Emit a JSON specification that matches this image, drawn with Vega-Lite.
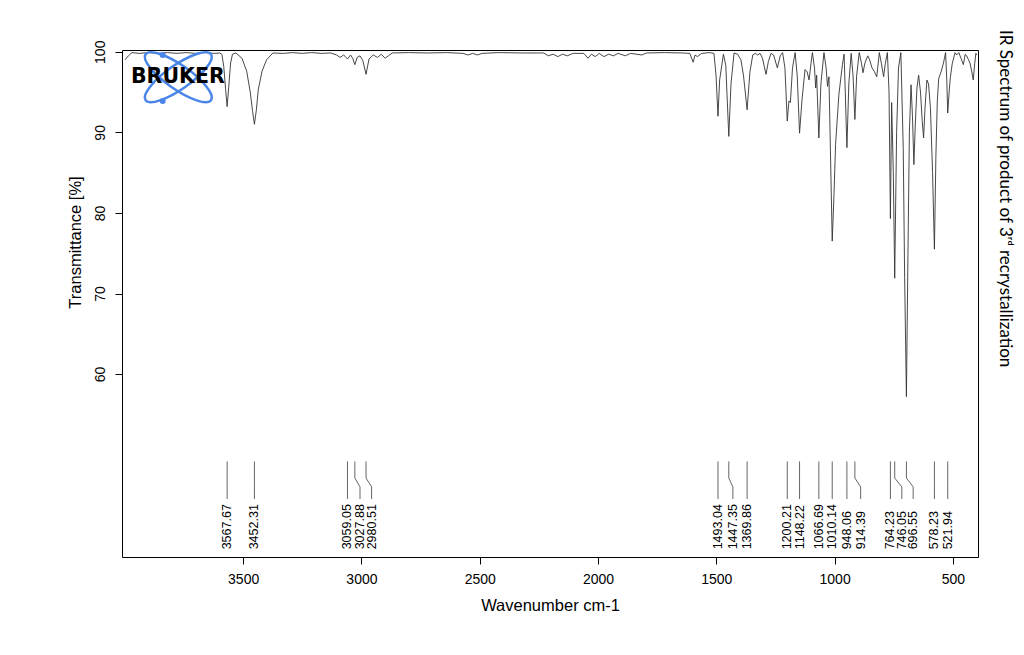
{
  "$schema": "https://vega.github.io/schema/vega-lite/v6.json",
  "width": 856,
  "height": 507,
  "autosize": {"type": "none"},
  "padding": {"left": 122, "top": 50, "right": 46, "bottom": 98},
  "background": "white",
  "config": {"view": {"stroke": "black", "strokeWidth": 1}},
  "datasets": {
    "spectrum": [
      {"wn": 3999, "t": 99.0}, {"wn": 3985, "t": 99.5}, {"wn": 3970, "t": 99.9}, {"wn": 3940, "t": 99.8},
      {"wn": 3900, "t": 99.9}, {"wn": 3860, "t": 99.8}, {"wn": 3820, "t": 99.9}, {"wn": 3780, "t": 99.8},
      {"wn": 3740, "t": 99.9}, {"wn": 3700, "t": 99.8}, {"wn": 3660, "t": 99.9}, {"wn": 3620, "t": 99.8},
      {"wn": 3600, "t": 99.85}, {"wn": 3590, "t": 99.7}, {"wn": 3582, "t": 98.2}, {"wn": 3574, "t": 95.3},
      {"wn": 3567.67, "t": 93.2}, {"wn": 3561, "t": 95.6}, {"wn": 3553, "t": 98.6}, {"wn": 3545, "t": 99.7},
      {"wn": 3531, "t": 99.85}, {"wn": 3505, "t": 99.2}, {"wn": 3485, "t": 97.6}, {"wn": 3470, "t": 95.0},
      {"wn": 3460, "t": 92.6}, {"wn": 3452.31, "t": 91.0}, {"wn": 3444, "t": 92.8}, {"wn": 3436, "t": 95.3},
      {"wn": 3420, "t": 97.6}, {"wn": 3401, "t": 99.0}, {"wn": 3374, "t": 99.85}, {"wn": 3330, "t": 99.8},
      {"wn": 3290, "t": 99.9}, {"wn": 3250, "t": 99.8}, {"wn": 3210, "t": 99.9}, {"wn": 3170, "t": 99.8},
      {"wn": 3130, "t": 99.85}, {"wn": 3105, "t": 99.6}, {"wn": 3090, "t": 99.3}, {"wn": 3075, "t": 99.6},
      {"wn": 3059.05, "t": 99.1}, {"wn": 3046, "t": 99.6}, {"wn": 3037, "t": 99.2}, {"wn": 3027.88, "t": 98.4},
      {"wn": 3018, "t": 99.3}, {"wn": 3006, "t": 99.5}, {"wn": 2994, "t": 98.9}, {"wn": 2980.51, "t": 97.2},
      {"wn": 2968, "t": 99.1}, {"wn": 2950, "t": 99.6}, {"wn": 2932, "t": 99.3}, {"wn": 2916, "t": 99.7},
      {"wn": 2900, "t": 99.2}, {"wn": 2886, "t": 99.5}, {"wn": 2870, "t": 99.85}, {"wn": 2800, "t": 99.9},
      {"wn": 2720, "t": 99.85}, {"wn": 2640, "t": 99.9}, {"wn": 2570, "t": 99.8}, {"wn": 2550, "t": 99.6},
      {"wn": 2530, "t": 99.8}, {"wn": 2510, "t": 99.6}, {"wn": 2490, "t": 99.8}, {"wn": 2420, "t": 99.9},
      {"wn": 2320, "t": 99.85}, {"wn": 2230, "t": 99.85}, {"wn": 2210, "t": 99.5}, {"wn": 2190, "t": 99.7},
      {"wn": 2170, "t": 99.4}, {"wn": 2150, "t": 99.7}, {"wn": 2130, "t": 99.5}, {"wn": 2105, "t": 99.8},
      {"wn": 2060, "t": 99.8}, {"wn": 2042, "t": 99.2}, {"wn": 2028, "t": 99.7}, {"wn": 2012, "t": 99.4},
      {"wn": 1995, "t": 99.8}, {"wn": 1975, "t": 99.4}, {"wn": 1955, "t": 99.7}, {"wn": 1935, "t": 99.5},
      {"wn": 1915, "t": 99.8}, {"wn": 1885, "t": 99.5}, {"wn": 1862, "t": 99.8}, {"wn": 1815, "t": 99.6},
      {"wn": 1795, "t": 99.85}, {"wn": 1720, "t": 99.9}, {"wn": 1640, "t": 99.85}, {"wn": 1612, "t": 99.8},
      {"wn": 1598, "t": 98.7}, {"wn": 1590, "t": 99.6}, {"wn": 1580, "t": 99.4}, {"wn": 1562, "t": 99.8},
      {"wn": 1530, "t": 99.9}, {"wn": 1510, "t": 99.8}, {"wn": 1501, "t": 97.0}, {"wn": 1493.04, "t": 92.0},
      {"wn": 1486, "t": 96.5}, {"wn": 1470, "t": 99.7}, {"wn": 1460, "t": 98.3}, {"wn": 1447.35, "t": 89.5},
      {"wn": 1438, "t": 96.0}, {"wn": 1425, "t": 99.85}, {"wn": 1410, "t": 99.7}, {"wn": 1396, "t": 99.0},
      {"wn": 1385, "t": 97.0}, {"wn": 1369.86, "t": 92.8}, {"wn": 1358, "t": 97.5}, {"wn": 1346, "t": 99.6},
      {"wn": 1335, "t": 99.8}, {"wn": 1325, "t": 99.6}, {"wn": 1315, "t": 99.8}, {"wn": 1305, "t": 99.2},
      {"wn": 1290, "t": 97.2}, {"wn": 1280, "t": 98.8}, {"wn": 1269, "t": 99.8}, {"wn": 1258, "t": 99.6},
      {"wn": 1242, "t": 98.0}, {"wn": 1230, "t": 99.5}, {"wn": 1220, "t": 99.9}, {"wn": 1210, "t": 98.0},
      {"wn": 1200.21, "t": 91.4}, {"wn": 1193, "t": 93.9}, {"wn": 1187, "t": 93.7}, {"wn": 1178, "t": 98.0},
      {"wn": 1167, "t": 99.9}, {"wn": 1158, "t": 97.0}, {"wn": 1148.22, "t": 89.9}, {"wn": 1138, "t": 94.0},
      {"wn": 1125, "t": 97.8}, {"wn": 1116, "t": 97.5}, {"wn": 1108, "t": 96.5}, {"wn": 1100, "t": 98.5},
      {"wn": 1094, "t": 99.9}, {"wn": 1085, "t": 98.0}, {"wn": 1080, "t": 95.5}, {"wn": 1076, "t": 97.1},
      {"wn": 1066.69, "t": 89.3}, {"wn": 1058, "t": 96.0}, {"wn": 1045, "t": 99.9}, {"wn": 1036, "t": 98.0},
      {"wn": 1030, "t": 95.7}, {"wn": 1024, "t": 96.9}, {"wn": 1010.14, "t": 76.5}, {"wn": 1003, "t": 82.0},
      {"wn": 996, "t": 88.5}, {"wn": 982, "t": 94.7}, {"wn": 967, "t": 98.4}, {"wn": 960, "t": 99.7},
      {"wn": 955, "t": 95.0}, {"wn": 948.06, "t": 88.1}, {"wn": 940, "t": 96.0}, {"wn": 930, "t": 99.8},
      {"wn": 922, "t": 97.0}, {"wn": 914.39, "t": 91.6}, {"wn": 907, "t": 97.0}, {"wn": 896, "t": 99.9},
      {"wn": 886, "t": 98.5}, {"wn": 880, "t": 97.4}, {"wn": 872, "t": 98.6}, {"wn": 860, "t": 99.5},
      {"wn": 852, "t": 99.0}, {"wn": 842, "t": 98.0}, {"wn": 833, "t": 97.6}, {"wn": 822, "t": 96.9},
      {"wn": 816, "t": 98.5}, {"wn": 811, "t": 99.9}, {"wn": 802, "t": 98.5}, {"wn": 793, "t": 96.9},
      {"wn": 786, "t": 98.5}, {"wn": 777, "t": 99.9}, {"wn": 770, "t": 95.0}, {"wn": 764.23, "t": 79.3},
      {"wn": 759, "t": 93.7}, {"wn": 752, "t": 85.0}, {"wn": 746.05, "t": 71.9}, {"wn": 738, "t": 90.0},
      {"wn": 730, "t": 98.0}, {"wn": 720, "t": 99.9}, {"wn": 710, "t": 88.0}, {"wn": 704, "t": 72.0},
      {"wn": 696.55, "t": 57.2}, {"wn": 690, "t": 75.0}, {"wn": 684, "t": 90.0}, {"wn": 677, "t": 95.9},
      {"wn": 671, "t": 92.0}, {"wn": 665, "t": 86.0}, {"wn": 659, "t": 91.0}, {"wn": 652, "t": 95.5},
      {"wn": 645, "t": 97.1}, {"wn": 637, "t": 95.0}, {"wn": 630, "t": 91.5}, {"wn": 624, "t": 89.3},
      {"wn": 618, "t": 93.0}, {"wn": 610, "t": 96.5}, {"wn": 603, "t": 96.0}, {"wn": 595, "t": 93.0},
      {"wn": 586, "t": 85.0}, {"wn": 578.23, "t": 75.5}, {"wn": 572, "t": 87.0}, {"wn": 566, "t": 93.9},
      {"wn": 560, "t": 96.7}, {"wn": 550, "t": 97.5}, {"wn": 540, "t": 98.6}, {"wn": 531, "t": 99.9},
      {"wn": 526, "t": 96.5}, {"wn": 521.94, "t": 92.4}, {"wn": 516, "t": 95.0}, {"wn": 511, "t": 96.8},
      {"wn": 503, "t": 98.5}, {"wn": 491, "t": 99.9}, {"wn": 484, "t": 99.6}, {"wn": 475, "t": 99.9},
      {"wn": 466, "t": 99.2}, {"wn": 456, "t": 98.4}, {"wn": 448, "t": 99.7}, {"wn": 442, "t": 99.5},
      {"wn": 434, "t": 99.0}, {"wn": 428, "t": 98.6}, {"wn": 420, "t": 97.5}, {"wn": 414, "t": 96.5},
      {"wn": 408, "t": 98.5}, {"wn": 403, "t": 99.8}, {"wn": 400, "t": 99.6}
    ],
    "peaks": [
      {"label": "3567.67", "peak": 3567.67, "lx": 3567.67},
      {"label": "3452.31", "peak": 3452.31, "lx": 3452.31},
      {"label": "3059.05", "peak": 3059.05, "lx": 3059.05},
      {"label": "3027.88", "peak": 3027.88, "lx": 3006},
      {"label": "2980.51", "peak": 2980.51, "lx": 2957},
      {"label": "1493.04", "peak": 1493.04, "lx": 1493.04},
      {"label": "1447.35", "peak": 1447.35, "lx": 1430},
      {"label": "1369.86", "peak": 1369.86, "lx": 1369.86},
      {"label": "1200.21", "peak": 1200.21, "lx": 1200.21},
      {"label": "1148.22", "peak": 1148.22, "lx": 1148.22},
      {"label": "1066.69", "peak": 1066.69, "lx": 1066.69},
      {"label": "1010.14", "peak": 1010.14, "lx": 1010.14},
      {"label": "948.06", "peak": 948.06, "lx": 948.06},
      {"label": "914.39", "peak": 914.39, "lx": 890},
      {"label": "764.23", "peak": 764.23, "lx": 764.23},
      {"label": "746.05", "peak": 746.05, "lx": 716},
      {"label": "696.55", "peak": 696.55, "lx": 668},
      {"label": "578.23", "peak": 578.23, "lx": 578.23},
      {"label": "521.94", "peak": 521.94, "lx": 521.94}
    ]
  },
  "encoding": {
    "x": {
      "type": "quantitative",
      "scale": {"domain": [394, 4012], "reverse": true, "nice": false, "zero": false},
      "axis": {
        "values": [500, 1000, 1500, 2000, 2500, 3000, 3500], "format": "d",
        "grid": false, "domain": false, "tickSize": 7, "tickColor": "black",
        "labelFont": "Liberation Sans", "labelFontSize": 14, "labelColor": "black", "labelPadding": 8,
        "labelFlush": false, "labelOverlap": false,
        "title": "Wavenumber cm-1", "titleFont": "Liberation Sans", "titleFontSize": 16.5,
        "titleFontWeight": "normal", "titleColor": "black", "titlePadding": 11
      }
    },
    "y": {
      "type": "quantitative",
      "scale": {"domain": [37.3, 100.22], "nice": false, "zero": false},
      "axis": {
        "values": [60, 70, 80, 90, 100], "format": "d",
        "grid": false, "domain": false, "tickSize": 7, "tickColor": "black",
        "labelFont": "Liberation Sans", "labelFontSize": 14, "labelColor": "black", "labelPadding": 8,
        "labelAngle": 270, "labelAlign": "center", "labelBaseline": "bottom", "labelFlush": false,
        "title": "Transmittance [%]", "titleFont": "Liberation Sans", "titleFontSize": 16.5,
        "titleFontWeight": "normal", "titleColor": "black",
        "titleX": -47, "titleY": 192, "titleAngle": 270, "titleAlign": "center", "titleBaseline": "middle"
      }
    }
  },
  "layer": [
    {
      "data": {"name": "spectrum"},
      "mark": {"type": "line", "color": "#333333", "strokeWidth": 0.9, "clip": true},
      "encoding": {"x": {"field": "wn", "title": "Wavenumber cm-1"}, "y": {"field": "t", "title": "Transmittance [%]"}}
    },
    {
      "data": {"name": "peaks"},
      "mark": {"type": "rule", "color": "#555555", "strokeWidth": 0.9},
      "encoding": {"x": {"field": "peak"}, "y": {"datum": 49.16}, "y2": {"datum": 47.1}}
    },
    {
      "data": {"name": "peaks"},
      "mark": {"type": "rule", "color": "#555555", "strokeWidth": 0.9},
      "encoding": {"x": {"field": "peak"}, "x2": {"field": "lx"}, "y": {"datum": 47.1}, "y2": {"datum": 46.0}}
    },
    {
      "data": {"name": "peaks"},
      "mark": {"type": "rule", "color": "#555555", "strokeWidth": 0.9},
      "encoding": {"x": {"field": "lx"}, "y": {"datum": 46.0}, "y2": {"datum": 44.5}}
    },
    {
      "data": {"name": "peaks"},
      "mark": {"type": "text", "angle": 270, "align": "left", "baseline": "middle", "font": "Liberation Sans", "fontSize": 12.5, "color": "black"},
      "encoding": {"x": {"field": "lx"}, "y": {"datum": 38.25}, "text": {"field": "label"}}
    },
    {
      "data": {"values": [{"part": "orbit A", "tilt": 35}, {"part": "orbit B", "tilt": -35}]},
      "mark": {"type": "point", "shape": "M -1 0 C -1 -0.166 -0.552 -0.3 0 -0.3 C 0.552 -0.3 1 -0.166 1 0 C 1 0.166 0.552 0.3 0 0.3 C -0.552 0.3 -1 0.166 -1 0 Z", "filled": false, "stroke": "#4a86e8", "strokeWidth": 2.5, "size": 6400, "opacity": 1},
      "encoding": {"x": {"datum": 3774}, "y": {"datum": 96.85}, "angle": {"field": "tilt", "type": "quantitative", "scale": null}}
    },
    {
      "data": {"values": [{"dot": "upper", "t": 99.6}, {"dot": "lower", "t": 93.9}]},
      "mark": {"type": "point", "shape": "circle", "filled": true, "color": "#4a86e8", "size": 36, "opacity": 1},
      "encoding": {"x": {"datum": 3840}, "y": {"field": "t"}}
    },
    {
      "data": {"values": [{"name": "BRUKER"}]},
      "mark": {"type": "text", "font": "DejaVu Sans", "fontWeight": "bold", "fontSize": 20.5, "color": "black", "align": "center", "baseline": "middle"},
      "encoding": {"x": {"datum": 3776}, "y": {"datum": 96.85}, "text": {"field": "name"}}
    },
    {
      "data": {"values": [{"title": "IR Spectrum of product of 3ʳᵈ recrystallization"}]},
      "mark": {"type": "text", "font": "Lato", "fontSize": 17, "color": "black", "angle": 90, "align": "left", "baseline": "middle"},
      "encoding": {"x": {"datum": 280}, "y": {"datum": 102.7}, "text": {"field": "title"}}
    }
  ]
}
